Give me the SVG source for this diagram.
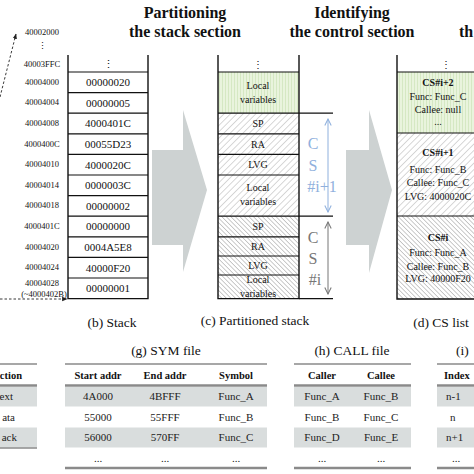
<svg xmlns="http://www.w3.org/2000/svg" width="474" height="474" viewBox="0 0 474 474">
<defs>
<pattern id="hA" width="4.5" height="4.5" patternUnits="userSpaceOnUse" patternTransform="rotate(45)"><rect width="4.5" height="4.5" fill="#fff"/><line x1="0" y1="0" x2="0" y2="4.5" stroke="#a8a8a8" stroke-width="0.9"/></pattern>
<pattern id="hB" width="3.2" height="3.2" patternUnits="userSpaceOnUse" patternTransform="rotate(-45)"><rect width="3.2" height="3.2" fill="#fff"/><line x1="0" y1="0" x2="0" y2="3.2" stroke="#8c8c8c" stroke-width="0.9"/></pattern>
<pattern id="gr" width="3" height="3" patternUnits="userSpaceOnUse"><rect width="3" height="3" fill="#e9f4dd"/><line x1="0.5" y1="0" x2="0.5" y2="3" stroke="#cfe4bc" stroke-width="0.8"/></pattern>
<marker id="ah" viewBox="0 0 10 10" refX="9" refY="5" markerWidth="6" markerHeight="6" orient="auto"><path d="M0,1 L10,5 L0,9 z" fill="#222"/></marker>
<marker id="vb" viewBox="0 0 10 10" refX="9" refY="5" markerWidth="8" markerHeight="8" orient="auto-start-reverse"><path d="M1,1 L9,5 L1,9" fill="none" stroke="#8fb0dd" stroke-width="1.3"/></marker>
<marker id="vg" viewBox="0 0 10 10" refX="9" refY="5" markerWidth="8" markerHeight="8" orient="auto-start-reverse"><path d="M1,1 L9,5 L1,9" fill="none" stroke="#777" stroke-width="1.3"/></marker>
</defs>
<style>
text{font-family:"Liberation Serif","Times New Roman",serif;fill:#111}
.hd{font-size:16px;font-weight:bold;text-anchor:middle}
.ad{font-size:8.5px;text-anchor:middle}
.v{font-size:11px;text-anchor:middle}
.s{font-size:10px;text-anchor:middle}
.cs{font-size:10px;text-anchor:middle}
.cap{font-size:13.5px;text-anchor:middle}
.th{font-size:10.5px;font-weight:bold;text-anchor:middle}
.td{font-size:11px;text-anchor:middle;fill:#222}
.box{fill:none;stroke:#111;stroke-width:1.4}
.cell{stroke:#111;stroke-width:1.2}
.big{fill:#cdd2d2}
.tl{stroke:#8a8a8a;stroke-width:1.6}
.tl2{stroke:#8a8a8a;stroke-width:2.4}
.gry{fill:#d9dddd}
</style>

<g id="headers">
<text class="hd" x="185" y="18">Partitioning</text>
<text class="hd" x="185" y="37">the stack section</text>
<text class="hd" x="352" y="18">Identifying</text>
<text class="hd" x="352" y="37">the control section</text>
<text class="hd" x="459" y="37" style="text-anchor:start">th</text>
</g>

<g id="arrows-big">
<polygon class="big" points="152,150 183,150 183,110 207,190 183,272 183,245 152,245"/>
<polygon class="big" points="346,150 369,150 369,110 392,190 369,273 369,245 346,245"/>
</g>

<g id="connectors">
<line x1="0" y1="97" x2="16" y2="34" stroke="#222" stroke-width="0.9" stroke-dasharray="2.5,2" marker-end="url(#ah)"/>
<line x1="0" y1="299" x2="67" y2="299" stroke="#222" stroke-width="0.9" stroke-dasharray="2.5,2" marker-end="url(#ah)"/>
<line x1="328" y1="119" x2="328" y2="212" stroke="#8fb0dd" stroke-width="1" marker-start="url(#vb)" marker-end="url(#vb)"/>
<line x1="328" y1="222" x2="328" y2="294" stroke="#777" stroke-width="1" marker-start="url(#vg)" marker-end="url(#vg)"/>
</g>

<g id="stack">
<g id="addresses">
<text class="ad" x="42" y="35">40002000</text>
<text class="ad" x="42" y="49">⋮</text>
<text class="ad" x="42" y="67">40003FFC</text>
<text class="ad" x="42" y="85">40004000</text>
<text class="ad" x="42" y="105">40004004</text>
<text class="ad" x="42" y="126">40004008</text>
<text class="ad" x="42" y="147">4000400C</text>
<text class="ad" x="42" y="167">40004010</text>
<text class="ad" x="42" y="188">40004014</text>
<text class="ad" x="42" y="208">40004018</text>
<text class="ad" x="42" y="229">4000401C</text>
<text class="ad" x="42" y="250">40004020</text>
<text class="ad" x="42" y="270">40004024</text>
<text class="ad" x="42" y="286">40004028</text>
<text class="ad" x="44" y="297">(~4000402B)</text>
</g>
<rect x="68" y="72" width="80" height="226.6" fill="#fff"/>
<path class="box" d="M68,55 V298.6 H148 V55"/>
<path class="cell" d="M68,72H148M68,92.6H148M68,113.2H148M68,133.8H148M68,154.4H148M68,175H148M68,195.6H148M68,216.2H148M68,236.8H148M68,257.4H148M68,278H148"/>
<text class="v" x="108" y="68">⋮</text>
<text class="v" x="108" y="86">00000020</text>
<text class="v" x="108" y="107">00000005</text>
<text class="v" x="108" y="127">4000401C</text>
<text class="v" x="108" y="148">00055D23</text>
<text class="v" x="108" y="169">4000020C</text>
<text class="v" x="108" y="189">0000003C</text>
<text class="v" x="108" y="210">00000002</text>
<text class="v" x="108" y="230">00000000</text>
<text class="v" x="108" y="251">0004A5E8</text>
<text class="v" x="108" y="272">40000F20</text>
<text class="v" x="108" y="292">00000001</text>
<text class="cap" x="112" y="327">(b) Stack</text>
</g>

<g id="partitioned">
<rect x="218" y="72" width="81" height="41.2" fill="url(#gr)"/>
<rect x="218" y="113.2" width="81" height="103" fill="url(#hA)"/>
<rect x="218" y="216.2" width="81" height="82.4" fill="url(#hB)"/>
<path class="box" d="M218,55 V298.6 H299 V55"/>
<path class="cell" d="M218,72H299M218,113.2H333M218,133.8H299M218,154.4H299M218,175H299M218,216.2H333M218,236.8H299M218,256H299M218,275H299M299,298.6H333"/>
<text class="s" x="258" y="68">⋮</text>
<text class="s" x="258" y="89">Local</text>
<text class="s" x="258" y="103">variables</text>
<text class="s" x="258" y="127">SP</text>
<text class="s" x="258" y="148">RA</text>
<text class="s" x="258" y="168">LVG</text>
<text class="s" x="258" y="191">Local</text>
<text class="s" x="258" y="205">variables</text>
<text class="s" x="258" y="230">SP</text>
<text class="s" x="258" y="250">RA</text>
<text class="s" x="258" y="269">LVG</text>
<text class="s" x="258" y="283">Local</text>
<text class="s" x="258" y="297">variables</text>
<text x="313" y="149" style="font-size:16px;fill:#8fb0dd;text-anchor:middle">C</text>
<text x="313" y="171" style="font-size:16px;fill:#8fb0dd;text-anchor:middle">S</text>
<text x="322" y="192" style="font-size:16px;fill:#8fb0dd;text-anchor:middle">#i+1</text>
<text x="313" y="243" style="font-size:16px;fill:#777;text-anchor:middle">C</text>
<text x="313" y="264" style="font-size:16px;fill:#777;text-anchor:middle">S</text>
<text x="315" y="285" style="font-size:16px;fill:#777;text-anchor:middle">#i</text>
<text class="cap" x="255" y="325">(c) Partitioned stack</text>
</g>

<g id="cslist">
<rect x="397" y="72" width="90" height="61" fill="url(#gr)"/>
<rect x="397" y="133" width="90" height="83" fill="url(#hA)"/>
<rect x="397" y="216" width="90" height="83" fill="url(#hB)"/>
<path class="box" d="M397,55 V299 H480"/>
<path class="cell" d="M397,72H480M397,133H480M397,216H480"/>
<text class="s" x="446" y="68">⋮</text>
<text class="cs" x="438" y="86" style="font-weight:bold">CS#i+2</text>
<text class="cs" x="438" y="100">Func: Func_C</text>
<text class="cs" x="438" y="113">Callee: null</text>
<text class="cs" x="438" y="125">...</text>
<text class="cs" x="438" y="156" style="font-weight:bold">CS#i+1</text>
<text class="cs" x="438" y="173">Func: Func_B</text>
<text class="cs" x="438" y="186">Callee: Func_C</text>
<text class="cs" x="438" y="200">LVG: 4000020C</text>
<text class="cs" x="438" y="241" style="font-weight:bold">CS#i</text>
<text class="cs" x="438" y="256">Func: Func_A</text>
<text class="cs" x="438" y="270">Callee: Func_B</text>
<text class="cs" x="438" y="282">LVG: 40000F20</text>
<text class="cap" x="441" y="327">(d) CS list</text>
</g>

<g id="table-f">
<rect class="gry" x="0" y="387" width="37" height="19.5"/>
<rect class="gry" x="0" y="427.5" width="37" height="20"/>
<line class="tl" x1="0" y1="364" x2="37" y2="364"/>
<line class="tl2" x1="0" y1="385.5" x2="37" y2="385.5"/>
<line class="tl" x1="0" y1="448" x2="37" y2="448"/>
<text class="th" x="22" y="379" style="text-anchor:end">ction</text>
<text class="td" x="13" y="400" style="text-anchor:end">ext</text>
<text class="td" x="15" y="421" style="text-anchor:end">ata</text>
<text class="td" x="17" y="441" style="text-anchor:end">ack</text>
</g>

<g id="table-g">
<text class="cap" x="166" y="355">(g) SYM file</text>
<rect class="gry" x="65" y="387" width="202" height="19.5"/>
<rect class="gry" x="65" y="427.5" width="202" height="20"/>
<line class="tl" x1="65" y1="364" x2="267" y2="364"/>
<line class="tl2" x1="65" y1="385.5" x2="267" y2="385.5"/>
<line class="tl2" x1="65" y1="468" x2="267" y2="468"/>
<text class="th" x="98" y="379">Start addr</text>
<text class="th" x="165" y="379">End addr</text>
<text class="th" x="236" y="379">Symbol</text>
<text class="td" x="98" y="400">4A000</text><text class="td" x="165" y="400">4BFFF</text><text class="td" x="236" y="400">Func_A</text>
<text class="td" x="98" y="421">55000</text><text class="td" x="165" y="421">55FFF</text><text class="td" x="236" y="421">Func_B</text>
<text class="td" x="98" y="441">56000</text><text class="td" x="165" y="441">570FF</text><text class="td" x="236" y="441">Func_C</text>
<text class="td" x="98" y="462">...</text><text class="td" x="165" y="462">...</text><text class="td" x="236" y="462">...</text>
</g>

<g id="table-h">
<text class="cap" x="352" y="355">(h) CALL file</text>
<rect class="gry" x="294" y="387" width="117" height="19.5"/>
<rect class="gry" x="294" y="427.5" width="117" height="20"/>
<line class="tl" x1="294" y1="364" x2="411" y2="364"/>
<line class="tl2" x1="294" y1="385.5" x2="411" y2="385.5"/>
<line class="tl2" x1="294" y1="468" x2="411" y2="468"/>
<text class="th" x="322" y="379">Caller</text>
<text class="th" x="381" y="379">Callee</text>
<text class="td" x="322" y="400">Func_A</text><text class="td" x="381" y="400">Func_B</text>
<text class="td" x="322" y="421">Func_B</text><text class="td" x="381" y="421">Func_C</text>
<text class="td" x="322" y="441">Func_D</text><text class="td" x="381" y="441">Func_E</text>
<text class="td" x="322" y="462">...</text><text class="td" x="381" y="462">...</text>
</g>

<g id="table-i">
<text class="cap" x="456" y="355" style="text-anchor:start">(i)</text>
<rect class="gry" x="437" y="387" width="40" height="19.5"/>
<rect class="gry" x="437" y="427.5" width="40" height="20"/>
<line class="tl" x1="437" y1="364" x2="474" y2="364"/>
<line class="tl2" x1="437" y1="385.5" x2="474" y2="385.5"/>
<line class="tl2" x1="437" y1="468" x2="474" y2="468"/>
<text class="th" x="444" y="379" style="text-anchor:start">Index</text>
<text class="td" x="446" y="400" style="text-anchor:start">n-1</text>
<text class="td" x="450" y="421" style="text-anchor:start">n</text>
<text class="td" x="446" y="441" style="text-anchor:start">n+1</text>
<text class="td" x="452" y="462" style="text-anchor:start">...</text>
</g>
</svg>
